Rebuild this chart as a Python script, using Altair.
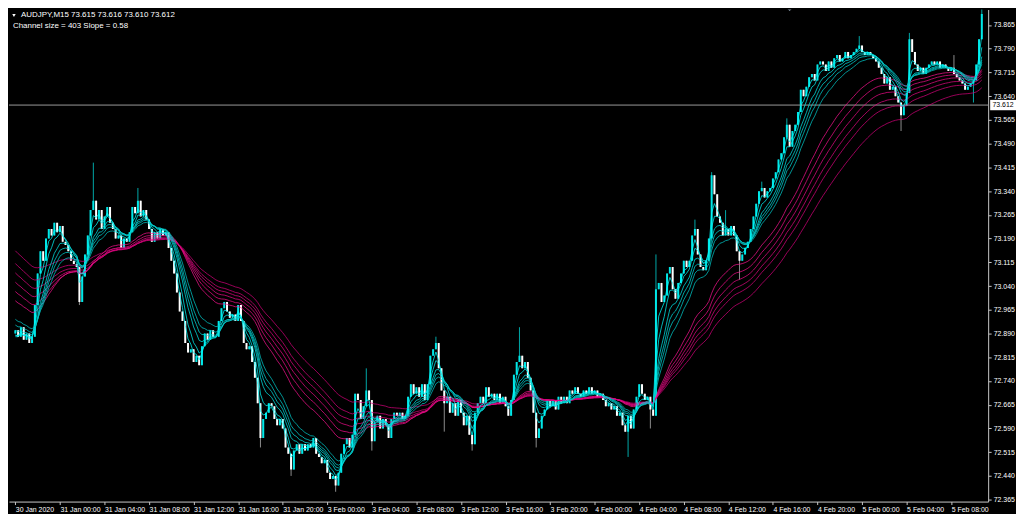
import altair as alt
import pandas as pd

# ---- data (AUDJPY M15, bars from 30 Jan 20:00) ----
first_open = 72.89
closes = [
    72.90, 72.88, 72.91, 72.87, 72.89, 72.86, 72.88, 72.98, 73.08, 73.15,
    73.12, 73.19, 73.22, 73.20, 73.24, 73.21, 73.23, 73.18, 73.17, 73.15,
    73.12, 73.11, 73.10, 72.99, 73.07, 73.14, 73.20, 73.28, 73.31, 73.25,
    73.28, 73.22, 73.26, 73.29, 73.24, 73.22, 73.19, 73.20, 73.16, 73.19,
    73.18, 73.21, 73.29, 73.27, 73.31, 73.26, 73.28, 73.25, 73.22, 73.18,
    73.21, 73.19, 73.22, 73.20, 73.21, 73.16, 73.12, 73.08, 73.02, 72.96,
    72.93, 72.86, 72.83, 72.84, 72.80, 72.82, 72.79, 72.85, 72.89, 72.87,
    72.90, 72.88, 72.88, 72.93, 72.97, 72.99, 72.96, 72.94, 72.95, 72.93,
    72.98, 72.93, 72.86, 72.84, 72.85, 72.80, 72.75, 72.67, 72.56, 72.62,
    72.64, 72.67, 72.66, 72.62, 72.60, 72.62, 72.59, 72.53, 72.51, 72.46,
    72.52, 72.54, 72.51, 72.54, 72.52, 72.54, 72.53, 72.56, 72.51, 72.50,
    72.48, 72.49, 72.45, 72.43, 72.44, 72.41, 72.45, 72.51, 72.54, 72.56,
    72.53, 72.57, 72.70, 72.68, 72.62, 72.66, 72.71, 72.68, 72.55, 72.61,
    72.63, 72.59, 72.62, 72.60, 72.56, 72.62, 72.64, 72.63, 72.64, 72.62,
    72.63, 72.69, 72.73, 72.70, 72.72, 72.69, 72.73, 72.68, 72.73, 72.82,
    72.84, 72.86, 72.78, 72.71, 72.67, 72.69, 72.64, 72.67, 72.63, 72.68,
    72.64, 72.60, 72.63, 72.57, 72.54, 72.64, 72.67, 72.69, 72.67, 72.72,
    72.69, 72.70, 72.68, 72.70, 72.67, 72.69, 72.66, 72.63, 72.68, 72.76,
    72.80, 72.82, 72.78, 72.80, 72.75, 72.71, 72.64, 72.56, 72.59, 72.63,
    72.65, 72.68, 72.66, 72.68, 72.65, 72.69, 72.67, 72.69, 72.67, 72.71,
    72.70, 72.72, 72.70, 72.69, 72.71, 72.70, 72.72, 72.70, 72.71, 72.69,
    72.70, 72.68, 72.66, 72.67, 72.65, 72.66, 72.63, 72.64, 72.60, 72.58,
    72.63, 72.59, 72.65, 72.69, 72.73, 72.70, 72.68, 72.69, 72.65, 72.63,
    73.03, 73.05, 72.99, 73.01, 73.08, 73.10, 73.03, 73.00, 73.05, 73.08,
    73.12, 73.10, 73.12, 73.20, 73.22, 73.14, 73.10, 73.09, 73.12, 73.19,
    73.39, 73.33, 73.26, 73.24, 73.20, 73.22, 73.20, 73.23, 73.20, 73.15,
    73.12, 73.14, 73.16, 73.18, 73.22, 73.26, 73.30, 73.34, 73.35, 73.32,
    73.34, 73.35, 73.38, 73.40, 73.44, 73.46, 73.51, 73.55, 73.48, 73.53,
    73.55, 73.59, 73.66, 73.64, 73.67, 73.70, 73.71, 73.69, 73.74, 73.75,
    73.74, 73.72, 73.75, 73.73, 73.76, 73.77, 73.75, 73.76, 73.78, 73.76,
    73.77, 73.78, 73.79, 73.80, 73.78, 73.77, 73.78, 73.77, 73.76, 73.75,
    73.73, 73.71, 73.68, 73.70, 73.66, 73.67, 73.64, 73.62, 73.58, 73.61,
    73.65, 73.82, 73.78, 73.74, 73.72, 73.73, 73.71, 73.73, 73.74, 73.75,
    73.74, 73.75, 73.73, 73.74, 73.73, 73.72, 73.73, 73.71, 73.70, 73.69,
    73.68, 73.66, 73.67, 73.68, 73.69, 73.74, 73.82, 73.90,
]
# visible wick extremes
hi_bars = [28, 44, 126, 151, 181, 230, 244, 250, 255, 268, 277, 303, 321, 337, 347]
hi_vals = [73.43, 73.35, 72.78, 72.88, 72.91, 73.14, 73.25, 73.40, 73.28, 73.37,
           73.57, 73.83, 73.84, 73.77, 73.92]
lo_bars = [23, 88, 99, 115, 128, 154, 164, 187, 220, 228, 260, 318, 344]
lo_vals = [72.98, 72.53, 72.44, 72.39, 72.52, 72.58, 72.52, 72.53, 72.50, 72.59,
           73.06, 73.53, 73.62]

# GMMA periods and their values at the left edge
short_periods = [3, 5, 8, 10, 12, 15]
short_start = [72.87, 72.87, 72.88, 72.90, 72.92, 72.94]
short_colors = ["#00ffff", "#00f4f4", "#00e6e6", "#00dada", "#00cfcf", "#00c4c4"]
long_periods = [30, 35, 40, 45, 50, 60]
long_start = [73.00, 73.03, 73.06, 73.09, 73.12, 73.16]
long_colors = ["#ff1493", "#f8108e", "#f00c8a", "#e80886", "#e00482", "#d8007e"]

tick_labels = ["30 Jan 2020", "31 Jan 00:00", "31 Jan 04:00", "31 Jan 08:00", "31 Jan 12:00",
               "31 Jan 16:00", "31 Jan 20:00", "3 Feb 00:00", "3 Feb 04:00", "3 Feb 08:00",
               "3 Feb 12:00", "3 Feb 16:00", "3 Feb 20:00", "4 Feb 00:00", "4 Feb 04:00",
               "4 Feb 08:00", "4 Feb 12:00", "4 Feb 16:00", "4 Feb 20:00", "5 Feb 00:00",
               "5 Feb 04:00", "5 Feb 08:00"]
price_ticks = [round(72.365 + 0.075 * k, 3) for k in range(21)]
bid = 73.612
header1 = "AUDJPY,M15  73.615 73.616 73.610 73.612"
header2 = "Channel size = 403 Slope = 0.58"

# ---- tables ----
n = len(closes)
opens = [first_open] + closes[:-1]
hmap = dict(zip(hi_bars, hi_vals))
lmap = dict(zip(lo_bars, lo_vals))
rows = []
for i in range(n):
    o, c = opens[i], closes[i]
    rows.append({
        "i": i, "open": o, "close": c,
        "high": hmap.get(i, max(o, c)), "low": lmap.get(i, min(o, c)),
        "dir": "up" if c >= o else "down",
    })
candles = pd.DataFrame(rows)

def ema(period, start):
    a = 2.0 / (period + 1)
    out, v = [], start
    for c in closes:
        v = v + a * (c - v)
        out.append(v)
    return out

def ema_table(periods, starts):
    recs, names = [], []
    for p, s in zip(periods, starts):
        nm = f"EMA{p}"
        names.append(nm)
        for i, v in enumerate(ema(p, s)):
            recs.append({"i": i, "v": v, "s": nm})
    return pd.DataFrame(recs), names

short_df, names_s = ema_table(short_periods, short_start)
long_df, names_l = ema_table(long_periods, long_start)

W, H = 985, 495
FONT = "Liberation Sans Narrow, Liberation Sans"
xs = alt.Scale(domain=[-0.5, n - 0.5], nice=False, zero=False)
ys = alt.Scale(domain=[72.359, 73.914], nice=False, zero=False)

label_expr = "[" + ",".join(f"'{t}'" for t in tick_labels) + "][round(datum.value/16)]"
x_axis = alt.Axis(values=[16 * k for k in range(len(tick_labels))], labelExpr=label_expr,
                  orient="bottom", title=None, grid=False, labelAlign="left",
                  labelFont=FONT, labelFontSize=7, labelColor="#ffffff", labelPadding=1,
                  tickSize=3, tickColor="#c8c8c8", domainColor="#c8c8c8", labelFlush=False,
                  labelOverlap=False)
y_axis = alt.Axis(values=price_ticks, format=".3f", orient="right", title=None, grid=False,
                  labelFont=FONT, labelFontSize=7, labelColor="#ffffff", labelPadding=2,
                  tickSize=3, tickColor="#c8c8c8", domainColor="#c8c8c8", labelOverlap=False,
                  labelFlush=False)

def X(field):
    return alt.X(field, scale=xs, axis=x_axis)

def Y(field):
    return alt.Y(field, scale=ys, axis=y_axis)

base = alt.Chart(candles)
wicks = base.mark_rule(strokeWidth=1, clip=True).encode(
    x=X("i:Q"), y=Y("low:Q"), y2="high:Q",
    color=alt.Color("dir:N", scale=alt.Scale(domain=["up", "down"], range=["#00a8a8", "#8c8c8c"]), legend=None),
)
bodies = base.mark_bar(size=2, clip=True).encode(
    x=X("i:Q"), y=Y("open:Q"), y2="close:Q",
    fill=alt.Fill("dir:N", scale=alt.Scale(domain=["up", "down"], range=["#00e8e8", "#ffffff"]), legend=None),
)
bid_line = alt.Chart(pd.DataFrame({"p": [bid]})).mark_rule(color="#9a9a9a", strokeWidth=1).encode(
    y=Y("p:Q"), x=alt.value(0), x2=alt.value(W))
long_lines = alt.Chart(long_df).mark_line(strokeWidth=0.7, clip=True).encode(
    x=X("i:Q"), y=Y("v:Q"),
    color=alt.Color("s:N", scale=alt.Scale(domain=names_l, range=long_colors), legend=None),
)
short_lines = alt.Chart(short_df).mark_line(strokeWidth=0.75, clip=True).encode(
    x=X("i:Q"), y=Y("v:Q"),
    color=alt.Color("s:N", scale=alt.Scale(domain=names_s, range=short_colors), legend=None),
)
bid_box = alt.Chart(pd.DataFrame({"p": [bid]})).mark_point(
    shape="M-1,-0.4L1,-0.4L1,0.4L-1,0.4Z", filled=True, color="#ffffff", opacity=1, size=676
).encode(y=Y("p:Q"), x=alt.value(W + 15))
bid_text = alt.Chart(pd.DataFrame({"p": [bid], "t": [f"{bid:.3f}"]})).mark_text(
    font=FONT, fontSize=7, color="#000000", align="center", baseline="middle"
).encode(y=Y("p:Q"), x=alt.value(W + 15), text="t:N")
hdr1 = alt.Chart(pd.DataFrame({"t": [header1]})).mark_text(
    font=FONT, fontSize=8, color="#ffffff", align="left", baseline="middle"
).encode(text="t:N", x=alt.value(12), y=alt.value(6))
hdr2 = alt.Chart(pd.DataFrame({"t": [header2]})).mark_text(
    font=FONT, fontSize=8, color="#ffffff", align="left", baseline="middle"
).encode(text="t:N", x=alt.value(4), y=alt.value(17))
tri = alt.Chart(pd.DataFrame({"k": ["tri"]})).mark_point(
    shape="triangle-down", filled=True, color="#ffffff", size=12, opacity=1
).encode(x=alt.value(5), y=alt.value(6))
diamond = alt.Chart(pd.DataFrame({"i": [278]})).mark_point(
    shape="diamond", filled=True, color="#8fa0b0", size=50, opacity=1, clip=True
).encode(x=X("i:Q"), y=alt.value(-2))

chart = alt.layer(
    wicks, bodies, bid_line, long_lines, short_lines, diamond, bid_box, bid_text, hdr1, hdr2, tri
).resolve_scale(color="independent").properties(
    width=W, height=H, background="#000000", padding=0
).configure_view(strokeWidth=0)

chart.save("out.html", embed_options={"renderer": "svg", "actions": False})
